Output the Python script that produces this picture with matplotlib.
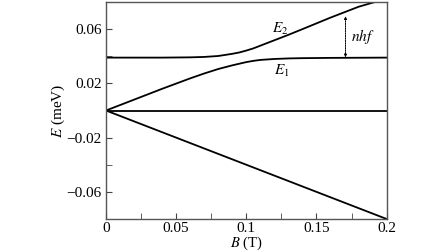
import matplotlib
matplotlib.use("Agg")
import matplotlib.pyplot as plt

# values
B = [0, 0.02, 0.04, 0.06, 0.07, 0.08, 0.09, 0.095, 0.1, 0.105, 0.11,
     0.12, 0.13, 0.14, 0.16, 0.18, 0.2]
E2 = [0.039, 0.039, 0.039, 0.0392, 0.0395, 0.0402, 0.0418, 0.0428, 0.0442,
      0.0458, 0.0478, 0.0518, 0.0558, 0.0600, 0.0685, 0.0765, 0.0825]
E1 = [0, 0.008, 0.016, 0.0237, 0.0273, 0.0306, 0.0333, 0.0345, 0.0357,
      0.0366, 0.0373, 0.0380, 0.0384, 0.0386, 0.0388, 0.0389, 0.0390]
B_lin = [0, 0.2]
E0 = [0, 0]
E3 = [0, -0.08]
B_arrow = 0.1707
xticks = [0, 0.05, 0.1, 0.15, 0.2]
xtick_labels = ["0", "0.05", "0.1", "0.15", "0.2"]
yticks = [-0.06, -0.02, 0.02, 0.06]
ytick_labels = ["\u22120.06", "\u22120.02", "0.02", "0.06"]

plt.rcParams["font.family"] = ["Liberation Serif", "DejaVu Serif"]
plt.rcParams["mathtext.fontset"] = "stix"

fig = plt.figure(figsize=(4.48, 2.52), dpi=100)
ax = fig.add_axes([0.2366, 0.131, 0.6264, 0.861])

for y in (E2, E1):
    ax.plot(B, y, color="black", lw=1.3)
ax.plot(B_lin, E0, color="black", lw=1.3)
ax.plot(B_lin, E3, color="black", lw=1.3)

ax.annotate("", xy=(B_arrow, 0.0695), xytext=(B_arrow, 0.0392),
            arrowprops=dict(arrowstyle="<|-|>", lw=0.7, ls=(0, (1.5, 1)),
                            color="black", mutation_scale=4,
                            shrinkA=0, shrinkB=0))

ax.text(0.1240, 0.0600, "$E_2$", fontsize=11, ha="center", va="center")
ax.text(0.1250, 0.0295, "$E_1$", fontsize=11, ha="center", va="center")
ax.text(0.1745, 0.0545, "$nhf$", fontsize=11, ha="left", va="center")

ax.set_xlim(0, 0.2)
ax.set_ylim(-0.08, 0.08)
ax.set_xticks(xticks)
ax.set_xticklabels(xtick_labels)
ax.set_xticks([0.025, 0.075, 0.125, 0.175], minor=True)
ax.set_yticks(yticks)
ax.set_yticklabels(ytick_labels)
ax.set_yticks([-0.04, 0, 0.04], minor=True)
ax.tick_params(which="both", direction="in", labelsize=11, pad=3,
               top=False, right=False, color="#444444")
ax.tick_params(axis="x", pad=2)
ax.tick_params(which="major", length=4)
ax.tick_params(which="minor", length=4)
for s in ax.spines.values():
    s.set_color("#555555")
    s.set_linewidth(1.0)

ax.set_xlabel("$B$ (T)", fontsize=10.5, labelpad=0)
ax.set_ylabel("$E$ (meV)", fontsize=11, labelpad=0)

fig.savefig("out.png", dpi=100)
